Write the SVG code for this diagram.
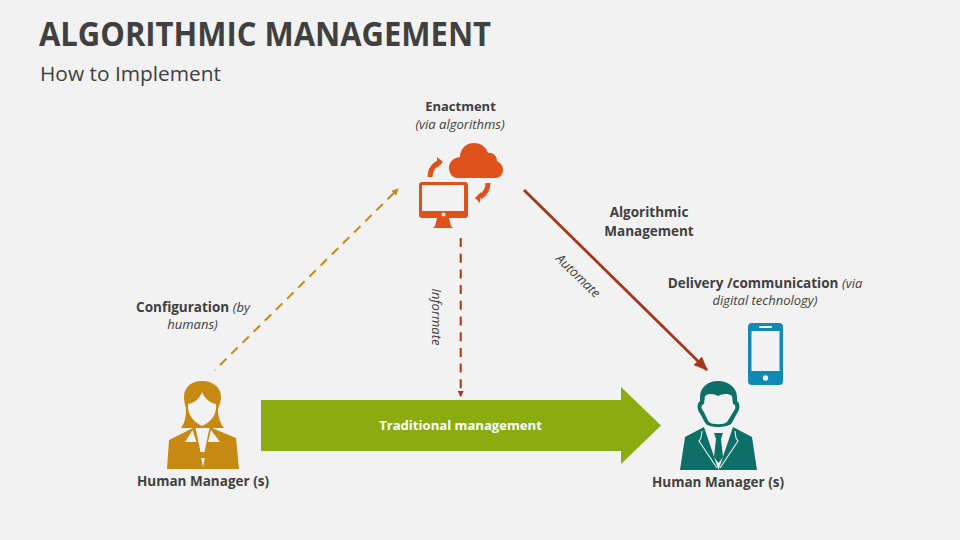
<svg xmlns="http://www.w3.org/2000/svg" width="960" height="540" viewBox="0 0 960 540">
<style>
text{font-family:"Open Sans","Liberation Sans",sans-serif;fill:#404040}
.b{font-weight:700;font-size:13.5px}
.i{font-style:italic;font-size:13px}
.c{text-anchor:middle}
.o{fill:#e0521b}
.g{fill:#c68a12}
.t{fill:#0e6f68}
.bg{fill:#f2f2f2}
</style>
<defs>
<marker id="ag" markerWidth="7" markerHeight="7" refX="6" refY="3.500" orient="auto" markerUnits="userSpaceOnUse"><path d="M0 0L7 3.500L0 7Z" fill="#c68a12"/></marker>
<marker id="ar" markerWidth="6" markerHeight="6" refX="5" refY="3" orient="auto" markerUnits="userSpaceOnUse"><path d="M0 0L6 3L0 6Z" fill="#a5361a"/></marker>
<marker id="ab" markerWidth="14" markerHeight="12" refX="13" refY="6" orient="auto" markerUnits="userSpaceOnUse"><path d="M0 0L14 6L0 12Z" fill="#a5361a"/></marker>
</defs>
<rect width="960" height="540" fill="#f2f2f2"/>
<g id="title">
<text x="39" y="46" font-size="34" font-weight="700" textLength="452" lengthAdjust="spacingAndGlyphs">ALGORITHMIC MANAGEMENT</text>
<text x="40" y="81" font-size="20.500" textLength="181" lengthAdjust="spacingAndGlyphs">How to Implement</text>
</g>
<g id="connectors">
<path d="M215 370L398 189" fill="none" stroke="#c68a12" stroke-width="2" stroke-dasharray="9 6.700" stroke-dashoffset="8.500" marker-end="url(#ag)"/>
<path d="M460.700 238V396" fill="none" stroke="#a5361a" stroke-width="2" stroke-dasharray="9 6.700" marker-end="url(#ar)"/>
<path d="M524 190L707 370" fill="none" stroke="#a5361a" stroke-width="2.800" marker-end="url(#ab)"/>
</g>
<g id="arrow-traditional">
<path d="M261 400H621V387L661 425.500L621 464V451H261Z" fill="#8aac10"/>
<text x="460.500" y="430" class="c" font-weight="700" font-size="13.100" style="fill:#fff">Traditional management</text>
</g>
<g id="enactment">
<text x="460.500" y="111" class="c" font-weight="700" font-size="13">Enactment</text>
<text x="460" y="129" class="i c">(via algorithms)</text>
<path class="o" d="M458 178C452 178 449 173 449 168C449 162 453 158 460 157C460 149 466 143 474 143C481 143 486 147 488 153C493 152 497 156 497 161C501 163 503 166 503 170C503 175 499 178 495 178Z"/>
<path class="o" fill-rule="evenodd" d="M422 182H465A3 3 0 0 1 468 185V215A3 3 0 0 1 465 218H449L451 226L453 228H433L435 226L437 218H422A3 3 0 0 1 419 215V185A3 3 0 0 1 422 182ZM422 185V211H464V185Z"/>
<circle cx="443.500" cy="214.500" r="2" class="bg"/>
<path d="M430 177C430 170 433 166 438 163" fill="none" stroke="#e0521b" stroke-width="5"/>
<path class="o" d="M437 157L443 162L437 168Z"/>
<path d="M488 183C488 190 485 194 480 197" fill="none" stroke="#e0521b" stroke-width="5"/>
<path class="o" d="M481 192L475 198L480 203Z"/>
</g>
<g id="labels">
<text x="193" y="312" class="c"><tspan class="b">Configuration </tspan><tspan class="i">(by</tspan></text>
<text x="192.500" y="329" class="i c">humans)</text>
<text transform="translate(432,317) rotate(90)" class="i c">Informate</text>
<text transform="translate(575,279) rotate(44)" class="i c">Automate</text>
<text x="649" y="217" class="b c">Algorithmic</text>
<text x="649" y="236" class="b c">Management</text>
<text x="765" y="288" class="c"><tspan class="b">Delivery /communication </tspan><tspan class="i">(via</tspan></text>
<text x="765" y="305" class="i c">digital technology)</text>
</g>
<g id="woman">
<path class="g" d="M202 381C190 381 184 388 184 397C184 403 186 407 186 410C186 418 184 424 181 428H224C221 424 218 418 218 410C218 407 221 403 221 397C221 388 214 381 202 381Z"/>
<path class="bg" d="M188 404C195 403 200 398 202 392C205 399 210 403 216 404C217 413 213 421 202 426C192 421 187 413 188 404Z"/>
<path class="g" d="M193 428L169 440L167 469H239L236 438L212 428Z"/>
<path class="bg" d="M192.500 430L185 442H196.500ZM211 430L220 442H208ZM195.500 428H209.500L204.500 452H200.500ZM201.200 458H204.800L203 467Z"/>
<text x="203" y="486" class="b c">Human Manager (s)</text>
</g>
<g id="man">
<path class="t" fill-rule="evenodd" d="M718 381C707 381 700 388 700 397V401C697 403 697 408 699 412C702 416 703 420 706 424C710 428 726 428 731 424C734 420 735 416 738 412C740 408 740 403 737 401V397C737 388 729 381 718 381ZM718 396C714 394 709 393 705 396L704 404C702 404 701 407 702 409C705 413 706 418 709 422C712 425 724 425 727 422C730 418 732 413 735 409C736 407 735 404 733 404L732 396C728 393 722 394 718 396Z"/>
<path class="t" d="M704 427L685 437L680 470H757L752 437L733 427L718.500 470Z"/>
<path d="M702 431L701 438L699 441L717 468M735 431L736 438L738 441L720 468" fill="none" stroke="#f2f2f2" stroke-width="1.100"/>
<path class="t" d="M714 433H723L721 439L723 457L718.500 463L714 457L716 439Z"/>
<text x="718" y="487" class="b c">Human Manager (s)</text>
</g>
<g id="delivery">
<rect x="748" y="323" width="35" height="62" rx="4" fill="#0f8ab5"/>
<rect x="751.500" y="331" width="28" height="40" class="bg"/>
<rect x="759" y="326" width="13" height="2" rx="1" class="bg"/>
<circle cx="765.500" cy="378" r="2.700" class="bg"/>
</g>
</svg>
